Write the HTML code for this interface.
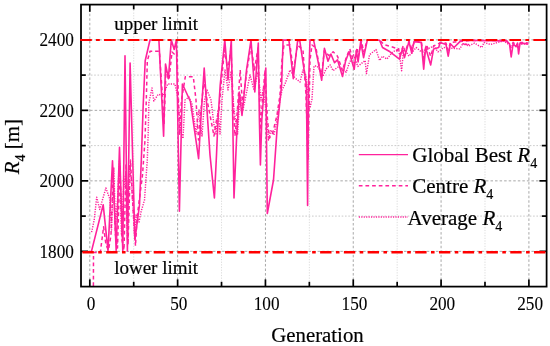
<!DOCTYPE html>
<html><head><meta charset="utf-8"><title>R4 convergence</title>
<style>
html,body{margin:0;padding:0;background:#fff;}
svg{display:block}
text{font-family:"Liberation Serif","Times New Roman",serif;fill:#000;stroke:#000;stroke-width:0.2px}
</style></head><body>
<svg width="550" height="346" viewBox="0 0 550 346">
<rect width="550" height="346" fill="#fff"/>

<g fill="none">
<line x1="89.80" y1="4.6" x2="89.80" y2="286.6" stroke="#989898" stroke-width="0.85" stroke-dasharray="2.5 2.05"/>
<line x1="133.71" y1="4.6" x2="133.71" y2="286.6" stroke="#d2d2d2" stroke-width="0.8" stroke-dasharray="1.2 1.45"/>
<line x1="177.62" y1="4.6" x2="177.62" y2="286.6" stroke="#989898" stroke-width="0.85" stroke-dasharray="2.5 2.05"/>
<line x1="221.53" y1="4.6" x2="221.53" y2="286.6" stroke="#d2d2d2" stroke-width="0.8" stroke-dasharray="1.2 1.45"/>
<line x1="265.44" y1="4.6" x2="265.44" y2="286.6" stroke="#989898" stroke-width="0.85" stroke-dasharray="2.5 2.05"/>
<line x1="309.35" y1="4.6" x2="309.35" y2="286.6" stroke="#d2d2d2" stroke-width="0.8" stroke-dasharray="1.2 1.45"/>
<line x1="353.26" y1="4.6" x2="353.26" y2="286.6" stroke="#989898" stroke-width="0.85" stroke-dasharray="2.5 2.05"/>
<line x1="397.17" y1="4.6" x2="397.17" y2="286.6" stroke="#d2d2d2" stroke-width="0.8" stroke-dasharray="1.2 1.45"/>
<line x1="441.08" y1="4.6" x2="441.08" y2="286.6" stroke="#989898" stroke-width="0.85" stroke-dasharray="2.5 2.05"/>
<line x1="484.99" y1="4.6" x2="484.99" y2="286.6" stroke="#d2d2d2" stroke-width="0.8" stroke-dasharray="1.2 1.45"/>
<line x1="528.90" y1="4.6" x2="528.90" y2="286.6" stroke="#989898" stroke-width="0.85" stroke-dasharray="2.5 2.05"/>
<line x1="81.0" y1="251.35" x2="546.6" y2="251.35" stroke="#989898" stroke-width="0.85" stroke-dasharray="2.5 2.05"/>
<line x1="81.0" y1="216.10" x2="546.6" y2="216.10" stroke="#bcbcbc" stroke-width="0.8" stroke-dasharray="1.6 1.7"/>
<line x1="81.0" y1="180.85" x2="546.6" y2="180.85" stroke="#989898" stroke-width="0.85" stroke-dasharray="2.5 2.05"/>
<line x1="81.0" y1="145.60" x2="546.6" y2="145.60" stroke="#bcbcbc" stroke-width="0.8" stroke-dasharray="1.6 1.7"/>
<line x1="81.0" y1="110.35" x2="546.6" y2="110.35" stroke="#989898" stroke-width="0.85" stroke-dasharray="2.5 2.05"/>
<line x1="81.0" y1="75.10" x2="546.6" y2="75.10" stroke="#bcbcbc" stroke-width="0.8" stroke-dasharray="1.6 1.7"/>
<line x1="81.0" y1="39.85" x2="546.6" y2="39.85" stroke="#989898" stroke-width="0.85" stroke-dasharray="2.5 2.05"/>
</g>
<g fill="none" stroke="#ff229c" stroke-linejoin="round">
<path d="M91.6,232.2 L94.2,220.0 L96.7,197.2 L99.7,209.4 L105.9,188.0 L109.9,199.3 L111.5,230.0 L113.8,168.0 L115.5,225.0 L117.5,200.0 L119.5,160.0 L121.5,235.0 L123.5,190.0 L125.5,175.0 L127.5,240.0 L129.5,165.0 L131.5,180.0 L134.5,235.0 L136.0,215.0 L139.0,222.0 L141.0,212.0 L144.5,200.0 L147.3,160.0 L148.3,130.0 L148.8,103.0 L152.0,88.0 L153.8,101.0 L158.2,94.3 L163.2,95.7 L167.6,84.0 L174.9,84.0 L177.8,97.0 L180.7,131.0 L183.0,138.5 L185.0,100.0 L189.0,97.0 L192.0,104.0 L194.0,118.0 L196.0,134.0 L199.0,110.0 L202.0,136.0 L204.5,100.0 L207.0,90.0 L211.0,100.0 L214.0,125.0 L216.0,134.0 L218.0,110.0 L220.0,134.0 L222.0,100.0 L225.0,70.0 L228.0,90.0 L231.0,72.0 L234.0,110.0 L237.6,134.0 L240.0,95.0 L243.0,110.0 L246.0,95.0 L250.0,75.0 L254.0,90.0 L258.0,72.0 L261.0,100.0 L263.0,90.0 L266.0,110.0 L268.5,140.0 L271.0,130.0 L274.0,135.0 L277.0,120.0 L280.0,100.0 L282.0,90.0 L285.0,84.0 L290.0,70.0 L295.0,78.0 L300.0,82.0 L303.0,70.0 L306.0,76.0 L308.5,100.0 L310.0,108.0 L312.0,99.0 L314.0,66.0 L317.0,66.0 L320.0,70.0 L322.9,76.5 L325.8,69.3 L330.2,64.9 L333.1,70.7 L338.9,66.4 L346.2,72.2 L349.1,63.5 L353.5,54.7 L357.8,66.4 L365.1,60.5 L366.5,73.6 L369.5,54.7 L376.0,49.6 L379.6,60.5 L382.5,56.2 L386.9,59.1 L392.7,51.8 L400.0,48.9 L395.8,51.8 L398.7,48.9 L401.6,70.7 L403.8,47.5 L408.9,56.2 L416.2,47.5 L421.3,51.8 L427.8,48.9 L433.6,46.0 L438.0,51.8 L443.8,47.5 L459.8,48.9 L462.7,43.8 L468.5,44.5 L462.9,43.8 L468.7,46.0 L474.5,43.1 L481.8,47.5 L484.0,42.4 L490.5,44.5 L497.8,42.4 L503.6,40.9 L510.9,46.0 L518.2,44.5 L528.4,43.8" stroke-width="1.45" stroke-dasharray="1.25 1.25"/>
<path d="M93.4,286.0 L93.5,252.5 L100.3,252.5 L103.6,226.8 L106.0,245.0 L108.5,250.0 L111.0,235.0 L113.2,175.0 L115.5,235.0 L117.5,248.0 L120.0,165.0 L122.0,240.0 L124.0,250.0 L126.0,165.0 L128.0,245.0 L130.5,160.0 L132.5,200.0 L135.5,246.0 L137.0,218.0 L142.5,175.0 L145.0,140.0 L146.3,100.0 L147.3,61.0 L150.0,51.3 L159.4,51.3 L162.0,90.0 L164.0,125.0 L166.0,70.0 L169.0,80.0 L172.0,52.0 L174.2,54.0 L177.0,52.0 L179.5,135.0 L181.5,100.0 L185.3,76.8 L193.3,76.8 L196.0,100.0 L198.5,140.0 L201.0,110.0 L204.0,80.0 L207.0,100.0 L210.0,115.0 L214.0,136.0 L216.5,120.0 L219.0,110.0 L221.0,85.0 L224.5,50.0 L228.0,70.0 L231.0,48.0 L233.0,100.0 L235.0,136.0 L237.0,115.0 L238.8,90.0 L240.2,70.0 L242.5,105.0 L247.0,70.0 L251.0,46.0 L254.5,70.0 L258.0,48.0 L260.5,130.0 L262.5,100.0 L265.0,70.0 L267.5,120.0 L269.5,138.0 L273.0,132.0 L277.0,115.0 L280.0,95.0 L282.0,60.0 L284.0,45.0 L290.0,45.0 L293.5,72.0 L297.5,45.0 L303.0,50.0 L306.0,95.0 L308.0,160.0 L310.0,60.0 L312.0,45.0 L316.0,48.0 L320.0,70.0 L321.7,73.6 L324.4,50.4 L328.7,55.5 L333.1,51.8 L337.5,56.2 L342.5,70.7 L346.2,57.6 L349.8,48.9 L354.2,63.5 L357.1,47.5 L358.5,56.2 L361.5,40.9 L363.6,51.8 L367.3,40.2 L379.6,40.2 L384.0,44.5 L398.5,48.9 L397.3,49.6 L400.2,54.7 L403.1,46.0 L405.3,51.8 L408.9,40.9 L411.8,48.9 L414.7,40.9 L421.3,41.6 L423.7,59.1 L426.4,44.5 L430.7,56.2 L433.6,46.0 L439.5,43.1 L446.0,43.1 L448.2,50.4 L450.4,42.4 L458.4,41.6 L470.0,40.5 L506.5,40.5 L510.9,47.5 L513.1,42.4 L518.2,47.5 L520.4,42.4 L528.4,43.1" stroke-width="1.5" stroke-dasharray="3.7 2.9"/>
<path d="M91.4,251.6 L103.2,204.8 L108.0,250.9 L112.5,160.8 L116.2,250.9 L119.5,147.3 L122.8,250.9 L125.0,55.7 L127.4,250.9 L130.1,63.0 L134.9,239.9 L139.5,205.0 L141.5,155.0 L143.2,105.0 L145.2,60.8 L150.0,40.0 L158.9,40.0 L163.6,136.3 L165.5,64.0 L168.4,78.6 L171.3,40.0 L174.2,49.5 L176.4,40.0 L179.4,211.2 L182.4,84.0 L190.4,101.5 L198.6,158.6 L201.2,113.7 L204.2,68.0 L210.0,155.0 L214.4,197.9 L216.5,155.0 L218.0,120.0 L220.2,85.0 L224.8,40.0 L228.0,80.0 L231.3,40.0 L232.6,110.0 L234.0,197.9 L236.5,140.0 L239.3,92.0 L242.0,115.5 L246.5,70.0 L251.0,40.0 L254.8,92.0 L258.3,43.0 L259.4,120.0 L260.4,164.9 L261.8,120.0 L265.8,68.0 L266.4,130.0 L267.3,213.5 L273.5,180.0 L277.0,130.0 L281.6,85.0 L283.1,40.0 L288.9,40.1 L293.3,78.6 L297.6,40.8 L299.8,40.8 L306.4,85.3 L307.6,205.5 L308.5,85.3 L310.0,40.1 L313.6,40.1 L318.0,61.2 L321.7,80.3 L324.4,48.2 L328.0,61.3 L330.9,54.0 L334.5,62.7 L337.5,59.8 L342.5,76.5 L345.5,61.3 L349.1,51.8 L354.2,69.3 L356.4,50.4 L358.1,62.0 L360.7,41.6 L363.6,57.6 L367.3,40.2 L379.6,40.2 L382.5,47.5 L390.0,51.8 L399.5,59.1 L402.4,48.9 L404.5,57.6 L408.9,41.6 L411.8,53.3 L414.0,41.6 L421.3,42.4 L423.7,69.3 L425.6,47.5 L430.7,64.9 L433.6,48.9 L438.7,47.5 L440.2,42.4 L446.0,44.5 L448.2,56.2 L450.4,43.8 L454.0,47.5 L458.4,43.1 L461.3,40.2 L506.5,40.9 L509.5,43.8 L511.2,56.9 L513.1,43.8 L516.0,46.7 L517.5,43.1 L518.6,54.0 L519.9,43.8 L522.5,43.1 L528.4,44.3" stroke-width="1.6"/>
</g>
<g stroke="#000" stroke-width="1.7" fill="none">
<line x1="89.80" y1="4.6" x2="89.80" y2="11.8"/>
<line x1="89.80" y1="286.6" x2="89.80" y2="279.40000000000003"/>
<line x1="133.71" y1="4.6" x2="133.71" y2="9.399999999999999"/>
<line x1="133.71" y1="286.6" x2="133.71" y2="281.8"/>
<line x1="177.62" y1="4.6" x2="177.62" y2="11.8"/>
<line x1="177.62" y1="286.6" x2="177.62" y2="279.40000000000003"/>
<line x1="221.53" y1="4.6" x2="221.53" y2="9.399999999999999"/>
<line x1="221.53" y1="286.6" x2="221.53" y2="281.8"/>
<line x1="265.44" y1="4.6" x2="265.44" y2="11.8"/>
<line x1="265.44" y1="286.6" x2="265.44" y2="279.40000000000003"/>
<line x1="309.35" y1="4.6" x2="309.35" y2="9.399999999999999"/>
<line x1="309.35" y1="286.6" x2="309.35" y2="281.8"/>
<line x1="353.26" y1="4.6" x2="353.26" y2="11.8"/>
<line x1="353.26" y1="286.6" x2="353.26" y2="279.40000000000003"/>
<line x1="397.17" y1="4.6" x2="397.17" y2="9.399999999999999"/>
<line x1="397.17" y1="286.6" x2="397.17" y2="281.8"/>
<line x1="441.08" y1="4.6" x2="441.08" y2="11.8"/>
<line x1="441.08" y1="286.6" x2="441.08" y2="279.40000000000003"/>
<line x1="484.99" y1="4.6" x2="484.99" y2="9.399999999999999"/>
<line x1="484.99" y1="286.6" x2="484.99" y2="281.8"/>
<line x1="528.90" y1="4.6" x2="528.90" y2="11.8"/>
<line x1="528.90" y1="286.6" x2="528.90" y2="279.40000000000003"/>
<line x1="81.0" y1="251.35" x2="88.2" y2="251.35"/>
<line x1="546.6" y1="251.35" x2="539.4" y2="251.35"/>
<line x1="81.0" y1="216.10" x2="85.8" y2="216.10"/>
<line x1="546.6" y1="216.10" x2="541.8000000000001" y2="216.10"/>
<line x1="81.0" y1="180.85" x2="88.2" y2="180.85"/>
<line x1="546.6" y1="180.85" x2="539.4" y2="180.85"/>
<line x1="81.0" y1="145.60" x2="85.8" y2="145.60"/>
<line x1="546.6" y1="145.60" x2="541.8000000000001" y2="145.60"/>
<line x1="81.0" y1="110.35" x2="88.2" y2="110.35"/>
<line x1="546.6" y1="110.35" x2="539.4" y2="110.35"/>
<line x1="81.0" y1="75.10" x2="85.8" y2="75.10"/>
<line x1="546.6" y1="75.10" x2="541.8000000000001" y2="75.10"/>
<line x1="81.0" y1="39.85" x2="88.2" y2="39.85"/>
<line x1="546.6" y1="39.85" x2="539.4" y2="39.85"/>
</g>
<rect x="81.0" y="4.6" width="465.6" height="282.0" fill="none" stroke="#000" stroke-width="1.75"/>
<line x1="80.2" y1="40.0" x2="546.0" y2="40.0" stroke="#ff0000" stroke-width="2.0" stroke-dasharray="11.6 4.22 3.8 4.23"/>
<line x1="82.4" y1="252.2" x2="546.0" y2="252.2" stroke="#ff0000" stroke-width="2.6" stroke-dasharray="11.4 4.4 3.6 4.37"/>
<text transform="translate(91.0,309.8) scale(1,1.09)" font-size="17.2" text-anchor="middle" style="stroke-width:0.1px">0</text>
<text transform="translate(178.8,309.8) scale(1,1.09)" font-size="17.2" text-anchor="middle" style="stroke-width:0.1px">50</text>
<text transform="translate(266.6,309.8) scale(1,1.09)" font-size="17.2" text-anchor="middle" style="stroke-width:0.1px">100</text>
<text transform="translate(354.5,309.8) scale(1,1.09)" font-size="17.2" text-anchor="middle" style="stroke-width:0.1px">150</text>
<text transform="translate(442.3,309.8) scale(1,1.09)" font-size="17.2" text-anchor="middle" style="stroke-width:0.1px">200</text>
<text transform="translate(530.1,309.8) scale(1,1.09)" font-size="17.2" text-anchor="middle" style="stroke-width:0.1px">250</text>
<text transform="translate(73.9,257.8) scale(1,1.09)" font-size="17.2" text-anchor="end" style="stroke-width:0.1px">1800</text>
<text transform="translate(73.9,187.2) scale(1,1.09)" font-size="17.2" text-anchor="end" style="stroke-width:0.1px">2000</text>
<text transform="translate(73.9,116.8) scale(1,1.09)" font-size="17.2" text-anchor="end" style="stroke-width:0.1px">2200</text>
<text transform="translate(73.9,46.2) scale(1,1.09)" font-size="17.2" text-anchor="end" style="stroke-width:0.1px">2400</text>
<text x="317.5" y="342.2" font-size="20.8" text-anchor="middle">Generation</text>
<text transform="translate(19.2,146.6) rotate(-90) scale(1.0,1.0)" font-size="21" text-anchor="middle"><tspan font-style="italic">R</tspan><tspan font-size="14" dy="5.5">4</tspan><tspan dy="-5.5"> [m]</tspan></text>
<text x="114.2" y="30.0" font-size="19">upper limit</text>
<text x="114.2" y="273.9" font-size="19">lower limit</text>
<line x1="358.8" y1="154.6" x2="408" y2="154.6" stroke="#ff229c" stroke-width="1.4"/>
<text x="412.3" y="161.9" font-size="21">Global Best <tspan font-style="italic">R</tspan><tspan font-size="14" dy="6">4</tspan></text>
<line x1="358.8" y1="185.8" x2="408" y2="185.8" stroke="#ff229c" stroke-width="1.4" stroke-dasharray="3.7 2.95"/>
<text x="412.3" y="193.0" font-size="21">Centre <tspan font-style="italic">R</tspan><tspan font-size="14" dy="6">4</tspan></text>
<line x1="358.8" y1="217.0" x2="408" y2="217.0" stroke="#ff229c" stroke-width="1.4" stroke-dasharray="1.2 1.24"/>
<text x="407.6" y="225.1" font-size="21">Average <tspan font-style="italic">R</tspan><tspan font-size="14" dy="6">4</tspan></text>
</svg></body></html>
